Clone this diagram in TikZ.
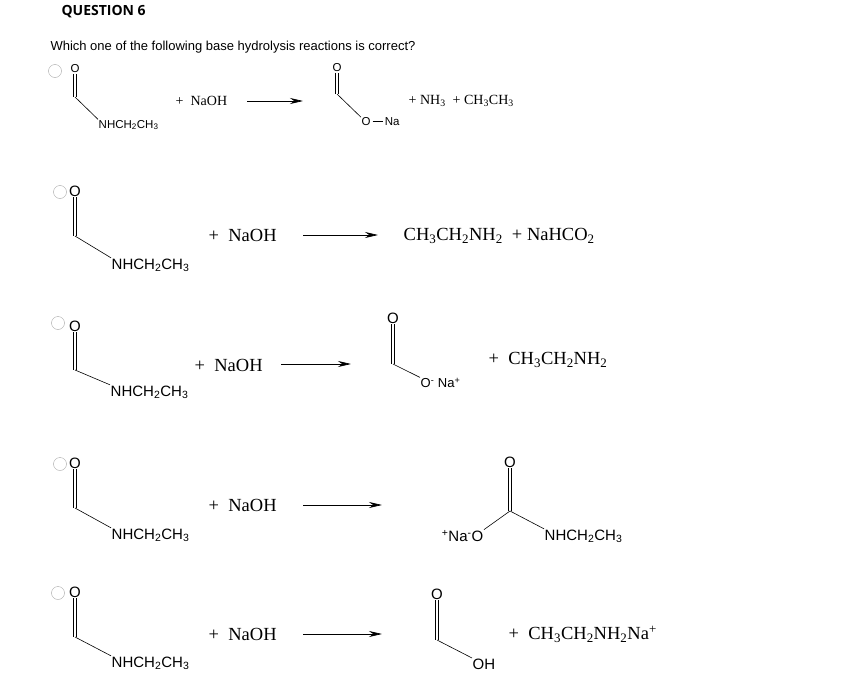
\documentclass[tikz,border=0pt]{standalone}
\usepackage{fontspec}
\setmainfont{Liberation Serif}
\newfontfamily\arial{Liberation Sans}
\newfontfamily\hdr{Open Sans}
\usetikzlibrary{arrows.meta}
\tikzset{
 lab/.style={font=\arial\fontsize{11.5}{12}\selectfont,inner sep=0.5pt},
 labb/.style={font=\arial\fontsize{15}{16}\selectfont,inner sep=0.5pt},
 ser/.style={font=\fontsize{14}{15}\selectfont,inner sep=0.5pt,anchor=west},
 serb/.style={font=\fontsize{18.5}{19}\selectfont,inner sep=0.5pt,anchor=west},
 radio/.style={circle,draw=gray!70,minimum size=13pt,inner sep=0pt},
 bond/.style={line width=0.6pt},
 rxn/.style={line width=0.7pt,-{Stealth[length=13pt,width=6pt]}},
}
\begin{document}
\begin{tikzpicture}[x=1pt,y=-1pt]
\useasboundingbox (0,0) rectangle (849,696);
\node[anchor=west,font=\hdr\bfseries\fontsize{14}{15}\selectfont] (q) at (58,12) {QUESTION 6};
\node[anchor=west,font=\arial\fontsize{13}{14}\selectfont] (txt) at (47,47) {Which one of the following base hydrolysis reactions is correct?};
% Row 1
\node[radio] (r1) at (55,71) {};
\node[lab] (o1) at (75,69) {O};
\coordinate (c1) at (75,97);
\node[lab,anchor=west] (n1) at (98,125) {NHCH\textsubscript{2}CH\textsubscript{3}};
\draw[bond] ([xshift=-1.6pt]o1.south) -- ([xshift=-1.6pt]c1); \draw[bond] ([xshift=1.6pt]o1.south) -- ([xshift=1.6pt]c1);
\draw[bond] (c1) -- (n1.north west);
\node[ser] (p1) at (175,101) {+\ \ NaOH};
\coordinate (a1s) at (247,101); \coordinate (a1e) at (303,101);
\draw[rxn] (a1s) -- (a1e);
\node[lab] (po1) at (337,68) {O};
\coordinate (pc1) at (337,94);
\node[lab,anchor=west] (pn1) at (361,122) {O\,\rule[0.35em]{0.9em}{0.6pt}\,Na};
\draw[bond] ([xshift=-1.6pt]po1.south) -- ([xshift=-1.6pt]pc1); \draw[bond] ([xshift=1.6pt]po1.south) -- ([xshift=1.6pt]pc1);
\draw[bond] (pc1) -- (pn1.north west);
\node[ser] (pr1) at (408,101) {+\ NH\textsubscript{3}\ \ +\ CH\textsubscript{3}CH\textsubscript{3}};
% Row 2
\node[radio] (r2) at (60,192) {};
\node[labb] (o2) at (75,191) {O};
\coordinate (c2) at (75,236);
\node[labb,anchor=west] (n2) at (111,265) {NHCH\textsubscript{2}CH\textsubscript{3}};
\draw[bond] ([xshift=-1.6pt]o2.south) -- ([xshift=-1.6pt]c2); \draw[bond] ([xshift=1.6pt]o2.south) -- ([xshift=1.6pt]c2);
\draw[bond] (c2) -- (n2.north west);
\node[serb] (p2) at (208,235) {+\ \ NaOH};
\coordinate (a2s) at (303,235); \coordinate (a2e) at (378,235);
\draw[rxn] (a2s) -- (a2e);
\node[serb] (pr2) at (403,236) {CH\textsubscript{3}CH\textsubscript{2}NH\textsubscript{2}\ \ +\ NaHCO\textsubscript{2}};
% Row 3
\node[radio] (r3) at (58,323) {};
\node[labb] (o3) at (75,326) {O};
\coordinate (c3) at (75,370);
\node[labb,anchor=west] (n3) at (110,392) {NHCH\textsubscript{2}CH\textsubscript{3}};
\draw[bond] ([xshift=-1.6pt]o3.south) -- ([xshift=-1.6pt]c3); \draw[bond] ([xshift=1.6pt]o3.south) -- ([xshift=1.6pt]c3);
\draw[bond] (c3) -- (n3.north west);
\node[serb] (p3) at (194,365) {+\ \ NaOH};
\coordinate (a3s) at (281,364); \coordinate (a3e) at (351,364);
\draw[rxn] (a3s) -- (a3e);
\node[labb] (po3) at (393,318) {O};
\coordinate (pc3) at (393,364);
\node[lab,anchor=west,font=\arial\fontsize{13}{14}\selectfont] (pn3) at (420,383) {O\textsuperscript{-} Na\textsuperscript{+}};
\draw[bond] ([xshift=-1.6pt]po3.south) -- ([xshift=-1.6pt]pc3); \draw[bond] ([xshift=1.6pt]po3.south) -- ([xshift=1.6pt]pc3);
\draw[bond] (pc3) -- (pn3.north west);
\node[serb] (pr3) at (488,360) {+\ \ CH\textsubscript{3}CH\textsubscript{2}NH\textsubscript{2}};
% Row 4
\node[radio] (r4) at (60,464) {};
\node[labb] (o4) at (75,463) {O};
\coordinate (c4) at (75,508);
\node[labb,anchor=west] (n4) at (111,535) {NHCH\textsubscript{2}CH\textsubscript{3}};
\draw[bond] ([xshift=-1.6pt]o4.south) -- ([xshift=-1.6pt]c4); \draw[bond] ([xshift=1.6pt]o4.south) -- ([xshift=1.6pt]c4);
\draw[bond] (c4) -- (n4.north west);
\node[serb] (p4) at (208,505) {+\ \ NaOH};
\coordinate (a4s) at (303,505); \coordinate (a4e) at (382,505);
\draw[rxn] (a4s) -- (a4e);
\node[labb] (po4) at (510,462) {O};
\coordinate (pc4) at (510,511);
\node[labb,anchor=east] (pl4) at (484,536) {\textsuperscript{+}Na\textsuperscript{-}O};
\node[labb,anchor=west] (pn4) at (544,536) {NHCH\textsubscript{2}CH\textsubscript{3}};
\draw[bond] ([xshift=-1.6pt]po4.south) -- ([xshift=-1.6pt]pc4); \draw[bond] ([xshift=1.6pt]po4.south) -- ([xshift=1.6pt]pc4);
\draw[bond] (pc4) -- (pl4.north east);
\draw[bond] (pc4) -- (pn4.north west);
% Row 5
\node[radio] (r5) at (58,593) {};
\node[labb] (o5) at (75,592) {O};
\coordinate (c5) at (75,637);
\node[labb,anchor=west] (n5) at (111,663) {NHCH\textsubscript{2}CH\textsubscript{3}};
\draw[bond] ([xshift=-1.6pt]o5.south) -- ([xshift=-1.6pt]c5); \draw[bond] ([xshift=1.6pt]o5.south) -- ([xshift=1.6pt]c5);
\draw[bond] (c5) -- (n5.north west);
\node[serb] (p5) at (208,634) {+\ \ NaOH};
\coordinate (a5s) at (303,634); \coordinate (a5e) at (382,634);
\draw[rxn] (a5s) -- (a5e);
\node[labb] (po5) at (437,594) {O};
\coordinate (pc5) at (437,640);
\node[labb,anchor=west] (pn5) at (472,664) {OH};
\draw[bond] ([xshift=-1.6pt]po5.south) -- ([xshift=-1.6pt]pc5); \draw[bond] ([xshift=1.6pt]po5.south) -- ([xshift=1.6pt]pc5);
\draw[bond] (pc5) -- (pn5.north west);
\node[serb] (pr5) at (508,634) {+\ \ CH\textsubscript{3}CH\textsubscript{2}NH\textsubscript{2}Na\textsuperscript{+}};
\end{tikzpicture}
\end{document}
